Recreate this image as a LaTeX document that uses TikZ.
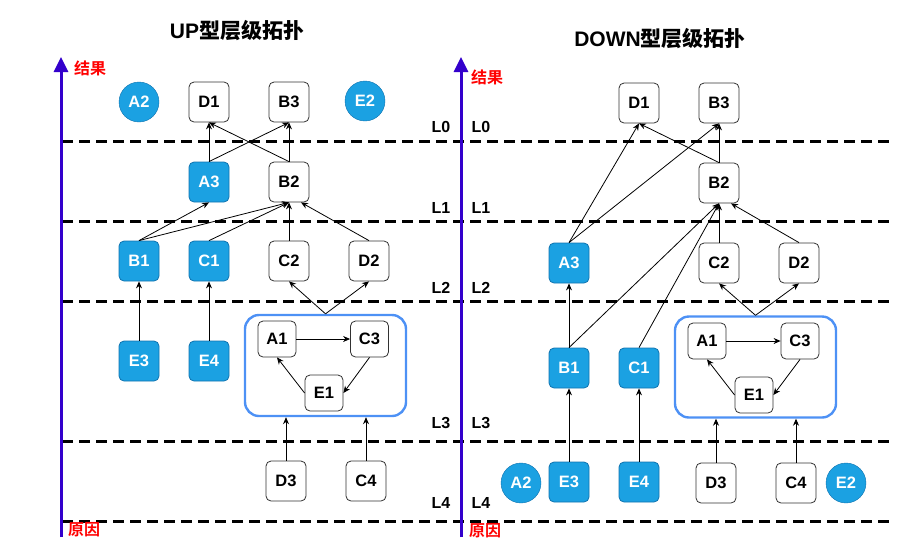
\documentclass[tikz,border=0pt]{standalone}
\usepackage{fontspec}
\setmainfont{Liberation Sans}
\newfontfamily\cjk{Noto Sans CJK SC Bold}
\usetikzlibrary{arrows.meta,calc}
\definecolor{nodeBlue}{RGB}{27,161,226}
\definecolor{nodeBlueLine}{RGB}{16,115,175}
\definecolor{boxGray}{RGB}{50,50,50}
\definecolor{groupBlue}{RGB}{77,145,245}
\definecolor{axisPurple}{RGB}{51,0,204}

\tikzset{
  plain/.style={draw=boxGray,fill=white,rounded corners=5pt,minimum width=40pt,line width=0.8pt,
                minimum height=40pt,inner sep=0pt,font=\fontsize{16.5}{18}\selectfont\bfseries},
  small/.style={plain,minimum width=38pt,minimum height=36pt},
  cause/.style={plain,draw=nodeBlueLine,fill=nodeBlue,text=white},
  side/.style={circle,draw=nodeBlueLine,fill=nodeBlue,text=white,minimum size=40pt,
               inner sep=0pt,font=\fontsize{16.5}{18}\selectfont\bfseries},
  group/.style={draw=groupBlue,line width=2.4pt,rounded corners=14pt,
                minimum width=161pt,minimum height=101pt},
  link/.style={-{Stealth[length=7pt,width=6pt]},line width=0.8pt},
  level/.style={line width=3pt,dash pattern=on 11pt off 6pt},
  axis/.style={axisPurple,line width=3pt,-{Triangle[length=15pt,width=14pt]}},
  lvl/.style={font=\fontsize{16}{18}\selectfont\bfseries},
  tag/.style={text=red,inner sep=0pt,font=\cjk\fontsize{16}{18}\selectfont},
  heading/.style={font=\fontsize{21}{24}\selectfont\bfseries}
}

\begin{document}
\begin{tikzpicture}[x=1pt,y=-1pt]
  \useasboundingbox (0,0) rectangle (915,550);

  % titles
  \node[heading] (upTitle) at (237,31) {UP{\cjk 型层级拓扑}};
  \node[heading] (downTitle) at (660,39) {DOWN{\cjk 型层级拓扑}};

  % level lines
  \foreach \y in {141,221,301,441,521}
    \draw[level] (62,\y) -- (893,\y);

  % axes
  \draw[axis] (61,537) -- (61,57);
  \draw[axis] (461,537) -- (461,57);
  \node[tag] (uTop) at (90,68) {结果};
  \node[tag] (uBottom) at (84,530) {原因};
  \node[tag] (dTop) at (487,77) {结果};
  \node[tag] (dBottom) at (485,531) {原因};

  % level labels
  \foreach \n/\y in {0/127,1/208,2/288,3/423,4/503} {
    \node[lvl] (uL\n) at (441,\y) {L\n};
    \node[lvl] (dL\n) at (481,\y) {L\n};
  }

  %% UP
  \node[side]  (uA2) at (139,102) {A2};
  \node[plain] (uD1) at (209,102) {D1};
  \node[plain] (uB3) at (289,102) {B3};
  \node[side]  (uE2) at (365,101) {E2};
  \node[cause] (uA3) at (209,182) {A3};
  \node[plain] (uB2) at (289,182) {B2};
  \node[cause] (uB1) at (139,261) {B1};
  \node[cause] (uC1) at (209,261) {C1};
  \node[plain] (uC2) at (289,261) {C2};
  \node[plain] (uD2) at (369,261) {D2};
  \node[cause] (uE3) at (139,361) {E3};
  \node[cause] (uE4) at (209,361) {E4};
  \node[group] (uGroup) at (325.5,365.5) {};
  \node[small] (uA1) at (277,339) {A1};
  \node[small] (uC3) at (369.5,339) {C3};
  \node[small] (uE1) at (324,393) {E1};
  \node[plain] (uD3) at (286,481) {D3};
  \node[plain] (uC4) at (366,481) {C4};

  \draw[link] (uA3) -- (uD1);
  \draw[link] (uA3.north) -- (uB3.south);
  \draw[link] (uB2) -- (uB3);
  \draw[link] (uB2.north) -- (uD1.south);
  \draw[link] (uB1.north) -- (uA3.south);
  \draw[link] (uB1.north) -- (uB2.south);
  \draw[link] (uC1.north) -- (uB2.south);
  \draw[link] (uC2) -- (uB2);
  \draw[link] (uD2.north) -- ([xshift=12pt]uB2.south);
  \draw[link] (uGroup.north) -- (uC2.south);
  \draw[link] (uGroup.north) -- (uD2.south);
  \draw[link] (uE3) -- (uB1);
  \draw[link] (uE4) -- (uC1);
  \draw[link] (uA1) -- (uC3);
  \draw[link] (uC3.south) -- (uE1.east);
  \draw[link] (uE1.west) -- (uA1.south);
  \draw[link] (uD3) -- (uD3 |- uGroup.south);
  \draw[link] (uC4) -- (uC4 |- uGroup.south);

  %% DOWN
  \node[plain] (dD1) at (639,103) {D1};
  \node[plain] (dB3) at (719,103) {B3};
  \node[plain] (dB2) at (719,183) {B2};
  \node[cause] (dA3) at (569,263) {A3};
  \node[plain] (dC2) at (719,263) {C2};
  \node[plain] (dD2) at (799,263) {D2};
  \node[cause] (dB1) at (569,368) {B1};
  \node[cause] (dC1) at (639,368) {C1};
  \node[group] (dGroup) at (755.5,367) {};
  \node[small] (dA1) at (707,341) {A1};
  \node[small] (dC3) at (800,341) {C3};
  \node[small] (dE1) at (754,395) {E1};
  \node[side]  (dA2) at (521,483) {A2};
  \node[cause] (dE3) at (569,482) {E3};
  \node[cause] (dE4) at (639,482) {E4};
  \node[plain] (dD3) at (716,483) {D3};
  \node[plain] (dC4) at (796,483) {C4};
  \node[side]  (dE2) at (846,483) {E2};

  \draw[link] (dA3.north) -- (dD1.south);
  \draw[link] (dA3.north) -- (dB3.south);
  \draw[link] (dB2.north) -- (dD1.south);
  \draw[link] (dB2) -- (dB3);
  \draw[link] (dB1.north) -- (dB2.south);
  \draw[link] (dC1.north) -- (dB2.south);
  \draw[link] (dC2) -- (dB2);
  \draw[link] (dD2.north) -- ([xshift=12pt]dB2.south);
  \draw[link] (dB1) -- (dA3);
  \draw[link] (dE3) -- (dB1);
  \draw[link] (dE4) -- (dC1);
  \draw[link] (dGroup.north) -- (dC2.south);
  \draw[link] (dGroup.north) -- (dD2.south);
  \draw[link] (dA1) -- (dC3);
  \draw[link] (dC3.south) -- (dE1.east);
  \draw[link] (dE1.west) -- (dA1.south);
  \draw[link] (dD3) -- (dD3 |- dGroup.south);
  \draw[link] (dC4) -- (dC4 |- dGroup.south);
\end{tikzpicture}
\end{document}
